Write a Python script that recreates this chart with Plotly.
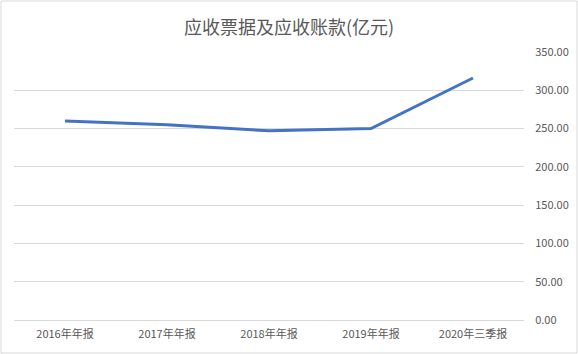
import plotly.graph_objects as go

categories = ["2016年年报", "2017年年报", "2018年年报", "2019年年报", "2020年三季报"]
values = [260.0, 255.0, 247.0, 250.0, 316.0]
y_ticks = [0, 50, 100, 150, 200, 250, 300, 350]
y_tick_labels = ["0.00", "50.00", "100.00", "150.00", "200.00", "250.00", "300.00", "350.00"]
title_text = "应收票据及应收账款(亿元)"

font_family = "Noto Sans CJK SC, Noto Sans, sans-serif"

fig = go.Figure()
fig.add_trace(go.Scatter(
    x=categories, y=values, mode="lines",
    line=dict(color="#4472C4", width=3),
    showlegend=False, hoverinfo="x+y",
))

fig.update_layout(
    width=578, height=354,
    margin=dict(l=14, r=54, t=52, b=34),
    paper_bgcolor="white", plot_bgcolor="white",
    title=dict(text=title_text, x=0.5, xanchor="center", y=0.922, yanchor="middle",
               font=dict(family=font_family, size=18, color="#595959")),
    font=dict(family=font_family, color="#595959", size=11),
    xaxis=dict(type="category", showgrid=False, showline=False, zeroline=False,
               ticks="", tickfont=dict(size=11, color="#595959"), automargin=False,
               ticklabelstandoff=6, range=[-0.5, 4.5]),
    yaxis=dict(side="right", range=[0, 350], tickvals=y_ticks, ticktext=y_tick_labels,
               showgrid=True, gridcolor="#D9D9D9", gridwidth=1, zeroline=True,
               zerolinecolor="#D9D9D9", zerolinewidth=1, showline=False,
               ticks="outside", ticklen=8, tickcolor="rgba(0,0,0,0)", automargin=False,
               tickfont=dict(size=11, color="#595959")),
    shapes=[dict(type="rect", xref="paper", yref="paper", x0=-13/510, x1=1 + 53/510,
                 y0=-33/268, y1=1 + 51/268, line=dict(color="#D9D9D9", width=1))],
)

fig.write_html("out.html")
